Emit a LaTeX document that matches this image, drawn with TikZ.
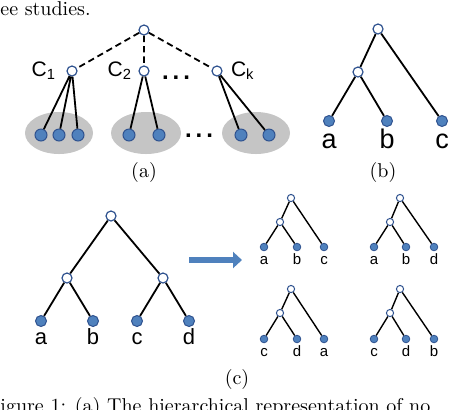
\documentclass[tikz,border=0pt]{standalone}
\usepackage{fontspec}
\setsansfont{Liberation Sans}
\usetikzlibrary{arrows.meta, positioning, shapes.geometric}
\definecolor{leafblue}{RGB}{79,129,189}
\definecolor{rimblue}{RGB}{47,82,143}
\definecolor{groupgray}{RGB}{197,197,197}

\begin{document}
\begin{tikzpicture}[x=0.5pt, y=-0.5pt,
        every node/.style={font=\normalsize},
        inner/.style={circle, draw=rimblue, fill=white, line width=0.6pt,
                      minimum size=5pt, inner sep=0pt},
        leaf/.style={circle, draw=rimblue, fill=leafblue, line width=0.5pt,
                     minimum size=5.5pt, inner sep=0pt},
        sinner/.style={inner, minimum size=3.6pt, line width=0.5pt},
        sleaf/.style={leaf, minimum size=3.8pt, line width=0.4pt},
        group/.style={ellipse, fill=groupgray, minimum width=34pt,
                      minimum height=21pt, inner sep=0pt},
        edge/.style={line width=0.9pt},
        sedge/.style={line width=0.7pt},
        linkdash/.style={line width=0.9pt, dash pattern=on 3.2pt off 2pt},
        clbl/.style={font=\sffamily\fontsize{10.5}{10.5}\selectfont, inner sep=0pt},
        biglbl/.style={font=\sffamily\fontsize{13.5}{13.5}\selectfont, inner sep=0pt,
                       text height=9.8pt, text depth=0pt},
        midlbl/.style={font=\sffamily\fontsize{11}{11}\selectfont, inner sep=0pt,
                       text height=8pt, text depth=0pt},
        smalllbl/.style={font=\sffamily\fontsize{7.5}{7.5}\selectfont, inner sep=0pt,
                         text height=5.5pt, text depth=0pt},
        dotlbl/.style={font=\sffamily\bfseries\fontsize{12}{12}\selectfont,
                       inner sep=0pt, anchor=base},
        arr/.style={-{Triangle[length=4.5pt,width=8pt]}, line width=3pt, leafblue}
    ]
        \useasboundingbox (0,0) rectangle (474,409);
        \clip (0,0) rectangle (474,409);
        \node[anchor=base west, inner sep=0pt] (prev) at (0,15) {ee studies.};
        \node[anchor=base west, inner sep=0pt] (figcap) at (-13,412)
            {Figure 1: (a) The hierarchical representation of no};

        \node[group] (g1) at (59,133) {};
        \node[group, minimum width=35pt] (g2) at (146,133) {};
        \node[group] (g3) at (256,133) {};
        \node[inner] (ra) at (144,30) {};
        \node[inner] (c1) at (72,71) {};
        \node[inner] (c2) at (144,71) {};
        \node[inner] (ck) at (217,71) {};
        \node[leaf, minimum size=6pt] (l11) at (41,135) {};
        \node[leaf, minimum size=6pt] (l12) at (59,135) {};
        \node[leaf, minimum size=6pt] (l13) at (78,135) {};
        \node[leaf, minimum size=6pt] (l21) at (129,135) {};
        \node[leaf, minimum size=6pt] (l22) at (159,135) {};
        \node[leaf, minimum size=6pt] (lk1) at (241,135) {};
        \node[leaf, minimum size=6pt] (lk2) at (269,135) {};
        \node[clbl, left=5pt of c1] (tc1) {C\textsubscript{1}};
        \node[clbl, left=3pt of c2] (tc2) {C\textsubscript{2}};
        \node[clbl, right=4pt of ck] (tck) {C\textsubscript{k}};
        \node[dotlbl] (dots1) at (176,79) {.\hspace{2pt}.\hspace{2pt}.};
        \node[dotlbl] (dots2) at (199,137) {.\hspace{2pt}.\hspace{2pt}.};
        \draw[linkdash] (ra) -- (c1) (ra) -- (c2) (ra) -- (ck);
        \draw[edge] (c1) -- (l11) (c1) -- (l12) (c1) -- (l13);
        \draw[edge] (c2) -- (l21) (c2) -- (l22);
        \draw[edge] (ck) -- (lk1) (ck) -- (lk2);
        \node (capa) at (144,172) {(a)};

        \node[inner] (rb) at (378,29) {};
        \node[inner] (mb) at (358,72) {};
        \node[leaf] (ba) at (329,121) {};
        \node[leaf] (bb) at (387,121) {};
        \node[leaf] (bc) at (442,121) {};
        \draw[edge] (rb) -- (mb) (rb) -- (bc) (mb) -- (ba) (mb) -- (bb);
        \node[biglbl, below=0.6pt of ba] (tba) {a};
        \node[biglbl, below=0.6pt of bb] (tbb) {b};
        \node[biglbl, below=0.6pt of bc] (tbc) {c};
        \node (capb) at (383,172) {(b)};

        \node[inner] (rc) at (111,216) {};
        \node[inner] (mc1) at (67,278) {};
        \node[inner] (mc2) at (163,278) {};
        \node[leaf] (ca) at (41,321) {};
        \node[leaf] (cb) at (93,321) {};
        \node[leaf] (cc) at (137,321) {};
        \node[leaf] (cd) at (189,321) {};
        \draw[edge] (rc) -- (mc1) (rc) -- (mc2) (mc1) -- (ca) (mc1) -- (cb)
                    (mc2) -- (cc) (mc2) -- (cd);
        \node[midlbl, below=0.6pt of ca] (tca) {a};
        \node[midlbl, below=0.6pt of cb] (tcb) {b};
        \node[midlbl, below=0.6pt of cc] (tcc) {c};
        \node[midlbl, below=0.6pt of cd] (tcd) {d};
        \coordinate (arrs) at (189,260);
        \coordinate (arre) at (242,260);
        \draw[arr] (arrs) -- (arre);
        \node (capc) at (237,379) {(c)};

        \node[sinner] (r1) at (291,198) {};
        \node[sinner] (m1) at (280,222) {};
        \node[sleaf] (a1) at (264,247) {};
        \node[sleaf] (b1) at (297,247) {};
        \node[sleaf] (c1s) at (324,247) {};
        \draw[sedge] (r1) -- (m1) (r1) -- (c1s) (m1) -- (a1) (m1) -- (b1);
        \node[smalllbl, below=1pt of a1] (ta1) {a};
        \node[smalllbl, below=1pt of b1] (tb1) {b};
        \node[smalllbl, below=1pt of c1s] (tc1s) {c};

        \node[sinner] (r2) at (400,198) {};
        \node[sinner] (m2) at (390,222) {};
        \node[sleaf] (a2) at (374,247) {};
        \node[sleaf] (b2) at (406,247) {};
        \node[sleaf] (d2) at (434,247) {};
        \draw[sedge] (r2) -- (m2) (r2) -- (d2) (m2) -- (a2) (m2) -- (b2);
        \node[smalllbl, below=1pt of a2] (ta2) {a};
        \node[smalllbl, below=1pt of b2] (tb2) {b};
        \node[smalllbl, below=1pt of d2] (td2) {d};

        \node[sinner] (r3) at (291,289) {};
        \node[sinner] (m3) at (280,313) {};
        \node[sleaf] (c3) at (264,339) {};
        \node[sleaf] (d3) at (297,339) {};
        \node[sleaf] (a3) at (324,339) {};
        \draw[sedge] (r3) -- (m3) (r3) -- (a3) (m3) -- (c3) (m3) -- (d3);
        \node[smalllbl, below=1pt of c3] (tc3) {c};
        \node[smalllbl, below=1pt of d3] (td3) {d};
        \node[smalllbl, below=1pt of a3] (ta3) {a};

        \node[sinner] (r4) at (400,289) {};
        \node[sinner] (m4) at (390,313) {};
        \node[sleaf] (c4) at (374,339) {};
        \node[sleaf] (d4) at (406,339) {};
        \node[sleaf] (b4) at (434,339) {};
        \draw[sedge] (r4) -- (m4) (r4) -- (b4) (m4) -- (c4) (m4) -- (d4);
        \node[smalllbl, below=1pt of c4] (tc4) {c};
        \node[smalllbl, below=1pt of d4] (td4) {d};
        \node[smalllbl, below=1pt of b4] (tb4) {b};
    \end{tikzpicture}
\end{document}
